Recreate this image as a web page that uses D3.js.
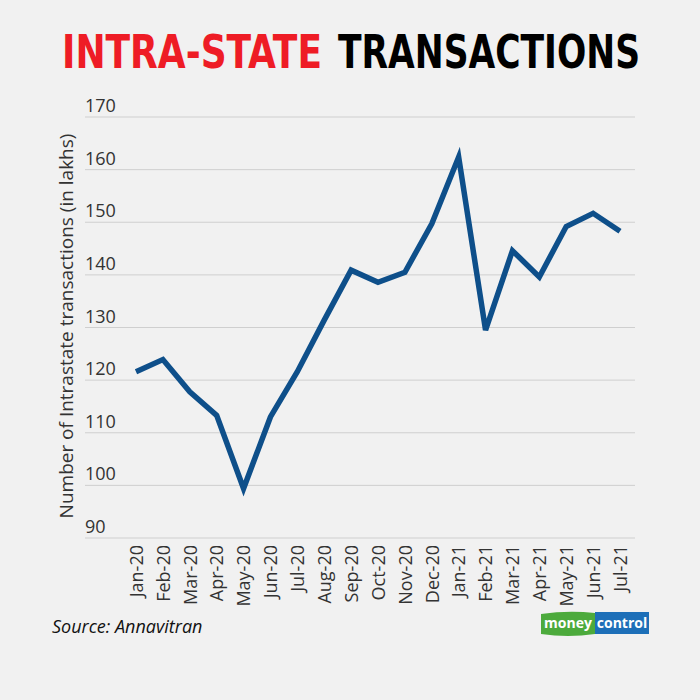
<!DOCTYPE html>
<html>
<head>
<meta charset="utf-8">
<script src="https://cdn.jsdelivr.net/npm/d3@7"></script>
<style>
  html, body { margin: 0; padding: 0; background: #f1f1f1; }
  svg { display: block; }
</style>
</head>
<body>
<div id="chart"></div>
<script>
var months = ["Jan-20","Feb-20","Mar-20","Apr-20","May-20","Jun-20","Jul-20","Aug-20","Sep-20",
              "Oct-20","Nov-20","Dec-20","Jan-21","Feb-21","Mar-21","Apr-21","May-21","Jun-21","Jul-21"];
var values = [121.6, 123.9, 117.8, 113.3, 99.4, 113.0, 121.6, 131.4, 140.9,
              138.6, 140.5, 149.7, 162.4, 129.5, 144.6, 139.6, 149.2, 151.7, 148.3];
var yTicks = [90, 100, 110, 120, 130, 140, 150, 160, 170];

var W = 700, H = 700;
var svg = d3.select("#chart").append("svg")
    .attr("width", W).attr("height", H);

svg.append("rect").attr("width", W).attr("height", H).attr("fill", "#f1f1f1");

// title, two parts
function titlePart(txt, x0, len, color) {
    svg.append("text")
        .attr("x", x0).attr("y", 68)
        .attr("textLength", len)
        .attr("lengthAdjust", "spacingAndGlyphs")
        .attr("fill", color)
        .style("font-family", "'DejaVu Sans', sans-serif")
        .style("font-stretch", "condensed")
        .style("font-weight", "bold")
        .style("font-size", "46px")
        .text(txt);
}
titlePart("INTRA-STATE", 62, 260, "#ee1c25");
titlePart("TRANSACTIONS", 338, 302, "#000");

var gridL = 85, gridR = 635;

var x = d3.scalePoint().domain(months).range([136, 620]);
var y = d3.scaleLinear().domain([90, 170]).range([538, 117]);

// gridlines
svg.append("g").selectAll("line").data(yTicks).enter().append("line")
    .attr("x1", gridL).attr("x2", gridR)
    .attr("y1", function (d) { return y(d); })
    .attr("y2", function (d) { return y(d); })
    .attr("stroke", "#cfcfcf").attr("stroke-width", 1);

// y tick labels
svg.append("g").selectAll("text").data(yTicks).enter().append("text")
    .attr("x", gridL)
    .attr("y", function (d) { return y(d) - 5; })
    .attr("fill", "#333")
    .style("font-family", "'Open Sans', sans-serif")
    .style("font-size", "18px")
    .text(function (d) { return d; });

// x axis labels (rotated)
var xAxis = svg.append("g")
    .attr("transform", "translate(0,540)")
    .call(d3.axisBottom(x).tickSize(0).tickPadding(0));
xAxis.select(".domain").remove();
xAxis.selectAll("text")
    .attr("transform", "rotate(-90)")
    .attr("x", -5).attr("y", 0).attr("dy", "0.35em")
    .attr("text-anchor", "end")
    .attr("fill", "#333")
    .style("font-family", "'Open Sans', sans-serif")
    .style("font-size", "18px");

// y axis title
svg.append("text")
    .attr("transform", "translate(73,326) rotate(-90)")
    .attr("text-anchor", "middle")
    .attr("fill", "#333")
    .style("font-family", "'Open Sans', sans-serif")
    .style("font-size", "19px")
    .text("Number of Intrastate transactions (in lakhs)");

// line
var line = d3.line()
    .x(function (d, i) { return x(months[i]); })
    .y(function (d) { return y(d); });

svg.append("path")
    .datum(values)
    .attr("d", line)
    .attr("fill", "none")
    .attr("stroke", "#0e4f8a")
    .attr("stroke-width", 5.5)
    .attr("stroke-linejoin", "miter");

// source
svg.append("text")
    .attr("x", 52).attr("y", 633)
    .attr("fill", "#111")
    .style("font-family", "'Open Sans', sans-serif")
    .style("font-style", "italic")
    .style("font-size", "18px")
    .text("Source: Annavitran");

// logo
var logo = svg.append("g").attr("transform", "translate(541,612)");
logo.append("path")
    .attr("d", "M0,2 Q27,-2 54,1 L54,22 Q27,26 0,22 Z")
    .attr("fill", "#4caa3c");
logo.append("rect").attr("x", 54).attr("y", 0).attr("width", 54).attr("height", 22)
    .attr("fill", "#1d6fb8");
logo.append("text").attr("x", 27).attr("y", 16).attr("text-anchor", "middle")
    .attr("fill", "#fff")
    .style("font-family", "'Open Sans', sans-serif").style("font-weight", "bold")
    .style("font-size", "14px").text("money");
logo.append("text").attr("x", 81).attr("y", 16).attr("text-anchor", "middle")
    .attr("fill", "#fff")
    .style("font-family", "'Open Sans', sans-serif").style("font-weight", "bold")
    .style("font-size", "14px").text("control");
</script>
</body>
</html>
